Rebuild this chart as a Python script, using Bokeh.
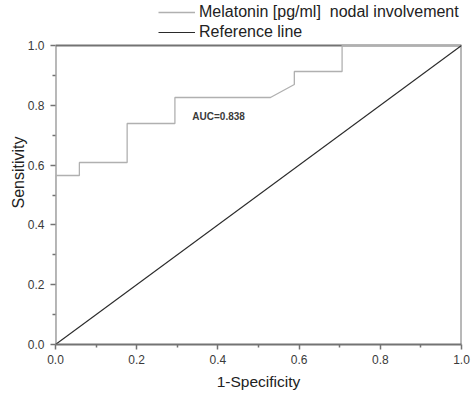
from bokeh.plotting import figure
from bokeh.models import Range1d, FixedTicker, PrintfTickFormatter, Label, Legend, LegendItem
from bokeh.embed import file_html
from bokeh.resources import INLINE

# ROC curve data (1-specificity, sensitivity)
fpr = [0.0, 0.0, 1/17, 1/17, 3/17, 3/17, 5/17, 5/17, 9/17, 10/17, 10/17, 12/17, 12/17, 1.0]
tpr = [0.0, 13/23, 13/23, 14/23, 14/23, 17/23, 17/23, 19/23, 19/23, 20/23, 21/23, 21/23, 1.0, 1.0]
ref_x = [0.0, 1.0]
ref_y = [0.0, 1.0]
major_ticks = [0.0, 0.2, 0.4, 0.6, 0.8, 1.0]
minor_ticks = [0.1, 0.3, 0.5, 0.7, 0.9]
auc_text = "AUC=0.838"
series_names = ["Melatonin [pg/ml]  nodal involvement", "Reference line"]

FONT = "Liberation Sans"
GRAY = "#737373"
TXT = "#3a3a3a"

FRAME_H = 344          # frame spans the top border area too (legend lives there)
Y_TOP = FRAME_H / 299  # data 1.0 sits 45 px below the top

p = figure(width=474, height=398, output_backend="svg", toolbar_location=None,
           x_range=Range1d(0, 1), y_range=Range1d(0, Y_TOP),
           min_border_left=55, min_border_right=13, min_border_top=0, min_border_bottom=54)
p.xgrid.visible = False
p.ygrid.visible = False
p.outline_line_color = None
p.background_fill_color = "white"
p.border_fill_color = "white"

# plot box (left, top, right edges; bottom edge is the x axis line)
p.line([0, 0, 1, 1], [0, 1, 1, 0], line_color=GRAY, line_width=2)

r1 = p.line(fpr, tpr, line_color="#b0b0b0", line_width=1.3)
r2 = p.line(ref_x, ref_y, line_color="#2a2a2a", line_width=1.1)

for ax in (p.xaxis[0], p.yaxis[0]):
    ax.ticker = FixedTicker(ticks=major_ticks, minor_ticks=minor_ticks)
    ax.formatter = PrintfTickFormatter(format="%.1f")
    ax.axis_line_color = GRAY
    ax.axis_line_width = 2
    ax.major_tick_line_color = GRAY
    ax.minor_tick_line_color = GRAY
    ax.major_tick_line_width = 1.5
    ax.minor_tick_line_width = 1.5
    ax.major_tick_out = 5
    ax.major_tick_in = 0
    ax.minor_tick_out = 3
    ax.minor_tick_in = 0
    ax.major_label_text_font = FONT
    ax.major_label_text_font_size = "12px"
    ax.major_label_text_color = TXT
    ax.axis_label_text_font = FONT
    ax.axis_label_text_font_style = "normal"
    ax.axis_label_text_color = "#222222"

p.yaxis.axis_line_color = None
p.xaxis.axis_label = "1-Specificity"
p.yaxis.axis_label = "Sensitivity"
p.xaxis.axis_label_text_font_size = "15.5px"
p.yaxis.axis_label_text_font_size = "16px"
p.xaxis.axis_label_standoff = 6
p.yaxis.axis_label_standoff = -2
p.xaxis.major_label_standoff = 5
p.yaxis.major_label_standoff = 6

p.add_layout(Label(x=0.337, y=0.763, text=auc_text, text_font=FONT, text_font_size="10px",
                   text_font_style="bold", text_color=TXT, text_baseline="middle"))

legend = Legend(items=[LegendItem(label=series_names[0], renderers=[r1]),
                       LegendItem(label=series_names[1], renderers=[r2])],
                location=(103, 302), orientation="vertical",
                border_line_color=None, background_fill_alpha=0,
                padding=0, margin=0, spacing=0,
                glyph_width=37, glyph_height=20, label_height=20,
                label_standoff=4,
                label_text_font=FONT, label_text_font_size="16px", label_text_color="#222222")
p.add_layout(legend)

open("out.html", "w").write(file_html(p, INLINE))
